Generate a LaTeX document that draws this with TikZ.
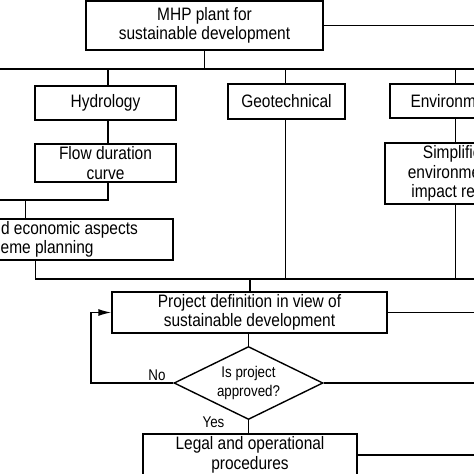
\documentclass[tikz,border=0pt]{standalone}
\usepackage{fontspec}
\setmainfont{Liberation Sans}[FakeStretch=0.86]
\usetikzlibrary{shapes.geometric,arrows.meta}
\begin{document}
\begin{tikzpicture}[x=1pt,y=-1pt,line width=1.4pt,
  box/.style={draw,rectangle,align=center,inner sep=0pt,font=\fontsize{18}{19.5}\selectfont},
  dia/.style={draw,diamond,shape aspect=2,inner sep=0pt,minimum width=149pt,minimum height=73pt,align=center,font=\fontsize{15.5}{19}\selectfont},
  lbl/.style={inner sep=0pt,font=\fontsize{15.5}{18}\selectfont}]
\useasboundingbox (0,0) rectangle (474,474);
\clip (0,0) rectangle (474,474);
% boxes
\node[box,minimum width=237pt,minimum height=49pt] (mhp) at (204.5,25.5) {MHP plant for\\sustainable development};
\node[box,minimum width=141pt,minimum height=34pt] (hyd) at (105.5,103) {Hydrology};
\node[box,minimum width=117pt,minimum height=35pt] (geo) at (286.5,101.5) {Geotechnical};
\node[box,minimum width=140pt,minimum height=34pt] (env) at (460,101) {Environmental};
\node[box,minimum width=141pt,minimum height=38pt] (fdc) at (105.5,163) {Flow duration\\curve};
\node[box,minimum width=293pt,minimum height=41pt] (eco) at (26.5,239.5) {Technical and economic aspects\\of scheme planning};
\node[box,minimum width=143pt,minimum height=61pt] (sim) at (456.5,173.5) {Simplified\\environmental\\impact report};
\node[box,minimum width=275pt,minimum height=41pt] (prj) at (249.5,312.5) {Project definition in view of\\sustainable development};
\node[dia] (dec) at (248.5,383) {Is project\\approved?};
\node[box,minimum width=214pt,minimum height=42pt] (leg) at (250,455) {Legal and operational\\procedures};
\node[lbl] (no) at (157,375) {No};
\node[lbl] (yes) at (213.5,422) {Yes};
% junction coordinates
\coordinate (b1L) at (-5,69);
\coordinate (b1R) at (480,69);
\coordinate (edgeR) at (480,24);
\coordinate (b2L) at (-5,200);
\coordinate (b3R) at (480,279);
\coordinate (jh) at (108,69);
\coordinate (jg) at (285.7,69);
\coordinate (je) at (455.5,69);
\coordinate (j2) at (108,200);
\coordinate (j3) at (25.7,200);
\coordinate (j4) at (35.7,279);
\coordinate (j5) at (250,279);
\coordinate (loop) at (91,312.5);
% connectors
\draw (mhp.east) -- (mhp.east -| edgeR);
\draw (mhp.south) -- (mhp.south |- b1L);
\draw (b1L) -- (b1R);
\draw (jh) -- (jh |- hyd.north);
\draw (jg) -- (jg |- geo.north);
\draw (je) -- (je |- env.north);
\draw (hyd.south -| jh) -- (jh |- fdc.north);
\draw (env.south -| je) -- (je |- sim.north);
\draw (fdc.south -| j2) -- (j2) -- (b2L);
\draw (j3) -- (j3 |- eco.north);
\draw (eco.south -| j4) -- (j4) -- (b3R);
\draw (geo.south -| jg) -- (jg |- b3R);
\draw (sim.south -| je) -- (je |- b3R);
\draw (j5) -- (j5 |- prj.north);
\draw (prj.east) -- (prj.east -| b3R);
\draw (prj.south -| dec.north) -- (dec.north);
\draw[-{Latex[length=13pt,width=7pt]}] (dec.west) -- (dec.west -| loop) -- (loop) -- (prj.west);
\draw (dec.east) -- (dec.east -| b3R);
\draw (dec.south) -- (leg.north -| dec.south);
\draw (leg.east) -- (leg.east -| b3R);
\end{tikzpicture}
\end{document}
